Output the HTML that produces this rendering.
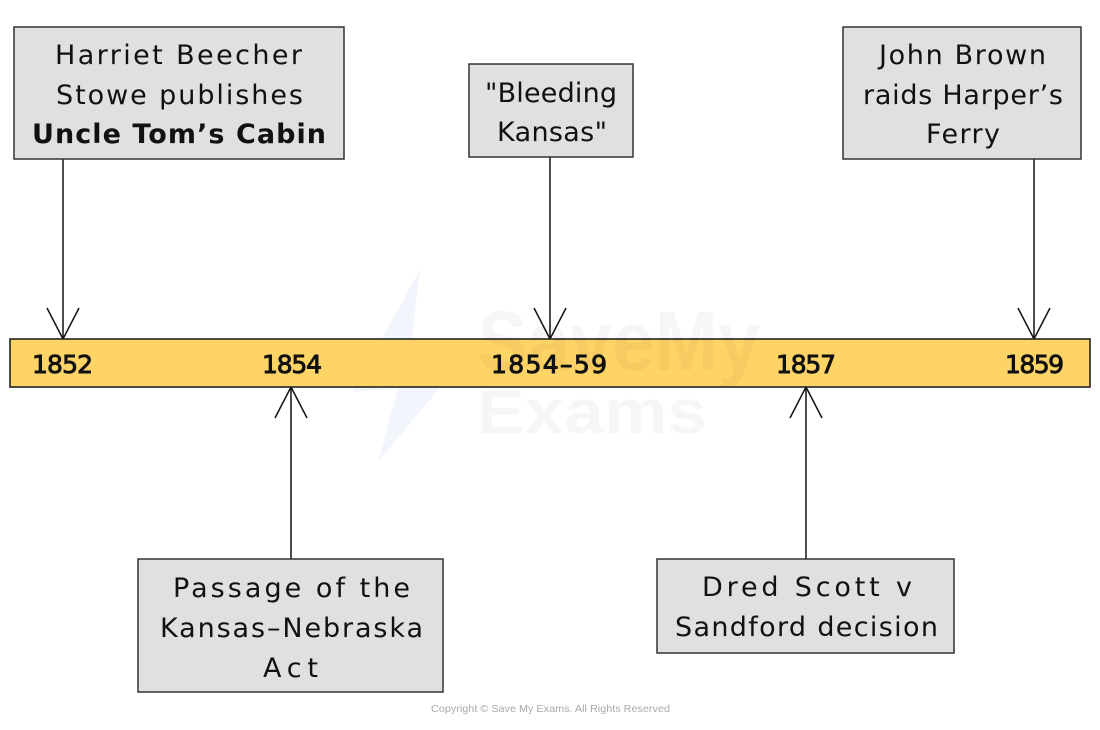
<!DOCTYPE html>
<html>
<head>
<meta charset="utf-8">
<style>
  html, body { margin: 0; padding: 0; background: #ffffff; }
  body { width: 1100px; height: 730px; overflow: hidden; }
  svg { display: block; }
  .t { font-family: "DejaVu Sans", "Liberation Sans", sans-serif; font-size: 27px; fill: #111; }
  .b { font-weight: bold; }
  .y { font-family: "DejaVu Sans", "Liberation Sans", sans-serif; font-size: 25px; fill: #111; stroke: #111; stroke-width: 0.9; }
</style>
</head>
<body>
<svg width="1100" height="730" viewBox="0 0 1100 730" xmlns="http://www.w3.org/2000/svg">
  <!-- watermark bolt -->
  <polygon points="420,270 352,392 398,388 378,462 458,366 408,370" fill="#f2f5fc"/>

  <!-- connectors -->
  <g stroke="#111" stroke-width="1.5" fill="none">
    <line x1="63" y1="159" x2="63" y2="339"/>
    <polyline points="47,308 63,339 79,308"/>
    <line x1="550" y1="157" x2="550" y2="339"/>
    <polyline points="534,308 550,339 566,308"/>
    <line x1="1034" y1="159" x2="1034" y2="339"/>
    <polyline points="1018,308 1034,339 1050,308"/>
    <line x1="291" y1="387" x2="291" y2="559"/>
    <polyline points="275,418 291,387 307,418"/>
    <line x1="806" y1="387" x2="806" y2="559"/>
    <polyline points="790,418 806,387 822,418"/>
  </g>

  <!-- timeline bar -->
  <rect x="10" y="339" width="1080" height="48" fill="#ffd466" stroke="#222" stroke-width="1.6"/>
  <text class="y" x="32" y="373" textLength="61" lengthAdjust="spacing">1852</text>
  <text class="y" x="262" y="373" textLength="60" lengthAdjust="spacing">1854</text>
  <text class="y" x="491" y="373" textLength="116" lengthAdjust="spacing">1854–59</text>
  <text class="y" x="776" y="373" textLength="60" lengthAdjust="spacing">1857</text>
  <text class="y" x="1005" y="373" textLength="59" lengthAdjust="spacing">1859</text>

  <!-- boxes -->
  <g fill="#e0e0e0" stroke="#333" stroke-width="1.5">
    <rect x="14" y="27" width="330" height="132"/>
    <rect x="469" y="64" width="164" height="93"/>
    <rect x="843" y="27" width="238" height="132"/>
    <rect x="138" y="559" width="305" height="133"/>
    <rect x="657" y="559" width="297" height="94"/>
  </g>

  <!-- box 1 -->
  <text class="t" x="55" y="64" textLength="247" lengthAdjust="spacing">Harriet Beecher</text>
  <text class="t" x="56" y="104" textLength="247" lengthAdjust="spacing">Stowe publishes</text>
  <text class="t b" x="32" y="143" textLength="294" lengthAdjust="spacing">Uncle Tom’s Cabin</text>

  <!-- box 2 -->
  <text class="t" x="485" y="102" textLength="132" lengthAdjust="spacing">"Bleeding</text>
  <text class="t" x="497" y="141" textLength="110" lengthAdjust="spacing">Kansas"</text>

  <!-- box 3 -->
  <text class="t" x="879" y="64" textLength="167" lengthAdjust="spacing">John Brown</text>
  <text class="t" x="863" y="104" textLength="200" lengthAdjust="spacing">raids Harper’s</text>
  <text class="t" x="926" y="143" textLength="74" lengthAdjust="spacing">Ferry</text>

  <!-- box 4 -->
  <text class="t" x="173" y="597" textLength="237" lengthAdjust="spacing">Passage of the</text>
  <text class="t" x="160" y="637" textLength="263" lengthAdjust="spacing">Kansas–Nebraska</text>
  <text class="t" x="263" y="677" textLength="55" lengthAdjust="spacing">Act</text>

  <!-- box 5 -->
  <text class="t" x="702" y="596" textLength="210" lengthAdjust="spacing">Dred Scott v</text>
  <text class="t" x="675" y="636" textLength="263" lengthAdjust="spacing">Sandford decision</text>

  <!-- watermark text -->
  <text x="477" y="370" font-family="Liberation Sans, sans-serif" font-weight="bold" font-size="84" fill="#000" fill-opacity="0.035" textLength="283" lengthAdjust="spacingAndGlyphs">SaveMy</text>
  <text x="477" y="433" font-family="Liberation Sans, sans-serif" font-weight="bold" font-size="62" fill="#000" fill-opacity="0.035" textLength="230" lengthAdjust="spacingAndGlyphs">Exams</text>

  <!-- copyright -->
  <text x="431" y="712" font-family="Liberation Sans, sans-serif" font-size="10.5" fill="#a8a8a8" textLength="239" lengthAdjust="spacingAndGlyphs">Copyright © Save My Exams. All Rights Reserved</text>
</svg>
</body>
</html>
